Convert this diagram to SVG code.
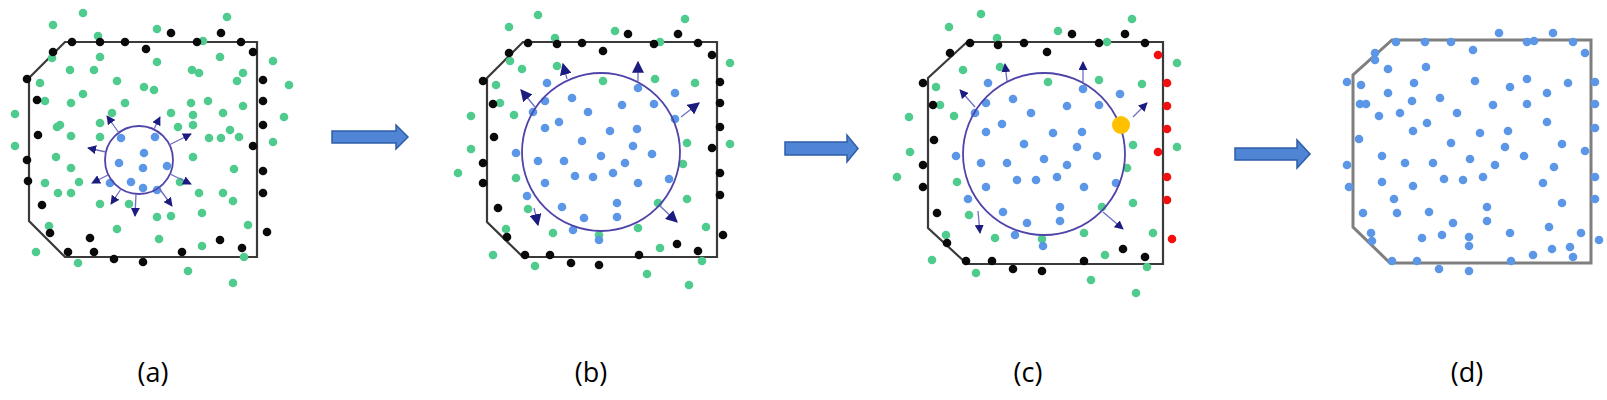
<svg xmlns="http://www.w3.org/2000/svg" width="1607" height="400" viewBox="0 0 1607 400">
<style>
.g{fill:#4fcb8e}
.k{fill:#0a0a0a}
.b{fill:#5b97e6}
.r{fill:#f20f0f}
.o{fill:#ffc000}
.bd{fill:none;stroke:#3a3a3a;stroke-width:2.2}
.bd2{fill:none;stroke:#7f7f7f;stroke-width:3}
.ring{fill:none;stroke:#4f44a8;stroke-width:1.8}
.ar{stroke:#6f6cc4;stroke-width:1.3;fill:none}
.blk{fill:#4f85d4;stroke:#2f5ea8;stroke-width:1.5}
.lbl{font-family:"Open Sans","Liberation Sans",sans-serif;font-size:27px;fill:#000;text-anchor:middle}
</style>
<defs>
<marker id="hs" viewBox="0 0 10 10" refX="9" refY="5" markerUnits="userSpaceOnUse" markerWidth="9" markerHeight="9" orient="auto"><path d="M0,0 L10,5 L0,10 z" fill="#1c1c80"/></marker>
<marker id="hl" viewBox="0 0 10 10" refX="9" refY="5" markerUnits="userSpaceOnUse" markerWidth="12" markerHeight="12" orient="auto"><path d="M0,0 L10,5 L0,10 z" fill="#1c1c80"/></marker>
</defs>
<rect width="1607" height="400" fill="#fff"/>

<g id="panel-a">
<polygon class="bd" points="65,42 257,42 257,257 65,257 29,221 29,78"/>
<g>
<circle class="g" cx="83" cy="13" r="4.3"/><circle class="g" cx="53" cy="25" r="4.3"/><circle class="g" cx="98" cy="36" r="4.3"/><circle class="g" cx="157" cy="29" r="4.3"/><circle class="g" cx="227" cy="17" r="4.3"/><circle class="g" cx="203" cy="41" r="4.3"/><circle class="g" cx="52" cy="58" r="4.3"/><circle class="g" cx="100" cy="57" r="4.3"/><circle class="g" cx="157" cy="62" r="4.3"/><circle class="g" cx="220" cy="57" r="4.3"/><circle class="g" cx="273" cy="61" r="4.3"/><circle class="g" cx="70" cy="70" r="4.3"/><circle class="g" cx="94" cy="70" r="4.3"/><circle class="g" cx="192" cy="70" r="4.3"/><circle class="g" cx="199" cy="73" r="4.3"/><circle class="g" cx="243" cy="73" r="4.3"/><circle class="g" cx="237" cy="81" r="4.3"/><circle class="g" cx="40" cy="83" r="4.3"/><circle class="g" cx="117" cy="81" r="4.3"/><circle class="g" cx="144" cy="87" r="4.3"/><circle class="g" cx="154" cy="90" r="4.3"/><circle class="g" cx="289" cy="85" r="4.3"/><circle class="g" cx="83" cy="94" r="4.3"/><circle class="g" cx="45" cy="101" r="4.3"/><circle class="g" cx="71" cy="103" r="4.3"/><circle class="g" cx="125" cy="103" r="4.3"/><circle class="g" cx="191" cy="103" r="4.3"/><circle class="g" cx="208" cy="101" r="4.3"/><circle class="g" cx="243" cy="106" r="4.3"/><circle class="g" cx="15" cy="114" r="4.3"/><circle class="g" cx="112" cy="113" r="4.3"/><circle class="g" cx="171" cy="113" r="4.3"/><circle class="g" cx="193" cy="115" r="4.3"/><circle class="g" cx="193" cy="125" r="4.3"/><circle class="g" cx="223" cy="113" r="4.3"/><circle class="g" cx="284" cy="117" r="4.3"/><circle class="g" cx="60" cy="125" r="4.3"/><circle class="g" cx="57" cy="127" r="4.3"/><circle class="g" cx="100" cy="123" r="4.3"/><circle class="g" cx="178" cy="127" r="4.3"/><circle class="g" cx="230" cy="130" r="4.3"/><circle class="g" cx="15" cy="146" r="4.3"/><circle class="g" cx="71" cy="136" r="4.3"/><circle class="g" cx="100" cy="137" r="4.3"/><circle class="g" cx="209" cy="138" r="4.3"/><circle class="g" cx="221" cy="138" r="4.3"/><circle class="g" cx="239" cy="137" r="4.3"/><circle class="g" cx="273" cy="142" r="4.3"/><circle class="g" cx="56" cy="157" r="4.3"/><circle class="g" cx="193" cy="157" r="4.3"/><circle class="g" cx="71" cy="168" r="4.3"/><circle class="g" cx="234" cy="169" r="4.3"/><circle class="g" cx="79" cy="182" r="4.3"/><circle class="g" cx="45" cy="183" r="4.3"/><circle class="g" cx="180" cy="182" r="4.3"/><circle class="g" cx="58" cy="193" r="4.3"/><circle class="g" cx="71" cy="193" r="4.3"/><circle class="g" cx="199" cy="193" r="4.3"/><circle class="g" cx="223" cy="193" r="4.3"/><circle class="g" cx="233" cy="201" r="4.3"/><circle class="g" cx="100" cy="204" r="4.3"/><circle class="g" cx="129" cy="204" r="4.3"/><circle class="g" cx="157" cy="217" r="4.3"/><circle class="g" cx="171" cy="216" r="4.3"/><circle class="g" cx="202" cy="213" r="4.3"/><circle class="g" cx="49" cy="226" r="4.3"/><circle class="g" cx="117" cy="229" r="4.3"/><circle class="g" cx="248" cy="225" r="4.3"/><circle class="g" cx="159" cy="239" r="4.3"/><circle class="g" cx="202" cy="246" r="4.3"/><circle class="g" cx="36" cy="252" r="4.3"/><circle class="g" cx="78" cy="263" r="4.3"/><circle class="g" cx="244" cy="257" r="4.3"/><circle class="g" cx="188" cy="271" r="4.3"/><circle class="g" cx="233" cy="283" r="4.3"/>
</g>
<g>
<circle class="k" cx="72" cy="42" r="4.3"/><circle class="k" cx="100" cy="42" r="4.3"/><circle class="k" cx="125" cy="42" r="4.3"/><circle class="k" cx="146" cy="49" r="4.3"/><circle class="k" cx="171" cy="33" r="4.3"/><circle class="k" cx="197" cy="42" r="4.3"/><circle class="k" cx="221" cy="33" r="4.3"/><circle class="k" cx="241" cy="42" r="4.3"/><circle class="k" cx="253" cy="52" r="4.3"/><circle class="k" cx="53" cy="52" r="4.3"/><circle class="k" cx="27" cy="79" r="4.3"/><circle class="k" cx="37" cy="100" r="4.3"/><circle class="k" cx="38" cy="135" r="4.3"/><circle class="k" cx="27" cy="160" r="4.3"/><circle class="k" cx="28" cy="181" r="4.3"/><circle class="k" cx="42" cy="205" r="4.3"/><circle class="k" cx="50" cy="233" r="4.3"/><circle class="k" cx="90" cy="238" r="4.3"/><circle class="k" cx="68" cy="252" r="4.3"/><circle class="k" cx="94" cy="252" r="4.3"/><circle class="k" cx="114" cy="259" r="4.3"/><circle class="k" cx="143" cy="262" r="4.3"/><circle class="k" cx="182" cy="252" r="4.3"/><circle class="k" cx="220" cy="240" r="4.3"/><circle class="k" cx="242" cy="248" r="4.3"/><circle class="k" cx="267" cy="232" r="4.3"/><circle class="k" cx="263" cy="80" r="4.3"/><circle class="k" cx="263" cy="101" r="4.3"/><circle class="k" cx="263" cy="125" r="4.3"/><circle class="k" cx="253" cy="146" r="4.3"/><circle class="k" cx="263" cy="171" r="4.3"/><circle class="k" cx="263" cy="193" r="4.3"/>
</g>
<g>
<circle class="b" cx="121" cy="138" r="4.3"/><circle class="b" cx="155" cy="137" r="4.3"/><circle class="b" cx="144" cy="153" r="4.3"/><circle class="b" cx="119" cy="163" r="4.3"/><circle class="b" cx="143" cy="168" r="4.3"/><circle class="b" cx="167" cy="166" r="4.3"/><circle class="b" cx="131" cy="182" r="4.3"/><circle class="b" cx="110" cy="183" r="4.3"/><circle class="b" cx="143" cy="188" r="4.3"/><circle class="b" cx="157" cy="190" r="4.3"/>
</g>
<circle class="ring" cx="139" cy="160" r="34"/>
<g marker-end="url(#hs)">
<line class="ar" x1="119" y1="133" x2="107" y2="116"/>
<line class="ar" x1="154" y1="129" x2="160" y2="117"/>
<line class="ar" x1="169" y1="145" x2="191" y2="134"/>
<line class="ar" x1="106" y1="152" x2="88" y2="148"/>
<line class="ar" x1="108" y1="175" x2="92" y2="183"/>
<line class="ar" x1="170" y1="174" x2="191" y2="184"/>
<line class="ar" x1="121" y1="189" x2="111" y2="204"/>
<line class="ar" x1="159" y1="188" x2="172" y2="206"/>
<line class="ar" x1="136" y1="194" x2="135" y2="216"/>
</g>
</g>

<g id="panel-b">
<polygon class="bd" points="523,42 717,42 717,257 523,257 487,222 487,78"/>
<g>
<circle class="g" cx="538" cy="15" r="4.3"/><circle class="g" cx="509" cy="27" r="4.3"/><circle class="g" cx="555" cy="38" r="4.3"/><circle class="g" cx="615" cy="31" r="4.3"/><circle class="g" cx="685" cy="19" r="4.3"/><circle class="g" cx="660" cy="42" r="4.3"/><circle class="g" cx="510" cy="61" r="4.3"/><circle class="g" cx="522" cy="69" r="4.3"/><circle class="g" cx="557" cy="66" r="4.3"/><circle class="g" cx="730" cy="63" r="4.3"/><circle class="g" cx="496" cy="85" r="4.3"/><circle class="g" cx="603" cy="81" r="4.3"/><circle class="g" cx="655" cy="79" r="4.3"/><circle class="g" cx="695" cy="83" r="4.3"/><circle class="g" cx="500" cy="103" r="4.3"/><circle class="g" cx="514" cy="115" r="4.3"/><circle class="g" cx="471" cy="116" r="4.3"/><circle class="g" cx="471" cy="149" r="4.3"/><circle class="g" cx="687" cy="143" r="4.3"/><circle class="g" cx="730" cy="144" r="4.3"/><circle class="g" cx="458" cy="173" r="4.3"/><circle class="g" cx="683" cy="164" r="4.3"/><circle class="g" cx="516" cy="178" r="4.3"/><circle class="g" cx="528" cy="209" r="4.3"/><circle class="g" cx="687" cy="199" r="4.3"/><circle class="g" cx="658" cy="203" r="4.3"/><circle class="g" cx="506" cy="229" r="4.3"/><circle class="g" cx="553" cy="233" r="4.3"/><circle class="g" cx="599" cy="235" r="4.3"/><circle class="g" cx="638" cy="228" r="4.3"/><circle class="g" cx="706" cy="227" r="4.3"/><circle class="g" cx="493" cy="255" r="4.3"/><circle class="g" cx="535" cy="266" r="4.3"/><circle class="g" cx="660" cy="248" r="4.3"/><circle class="g" cx="702" cy="261" r="4.3"/><circle class="g" cx="647" cy="274" r="4.3"/><circle class="g" cx="689" cy="285" r="4.3"/>
</g>
<g>
<circle class="k" cx="528" cy="43" r="4.3"/><circle class="k" cx="557" cy="44" r="4.3"/><circle class="k" cx="582" cy="43" r="4.3"/><circle class="k" cx="603" cy="51" r="4.3"/><circle class="k" cx="628" cy="34" r="4.3"/><circle class="k" cx="654" cy="44" r="4.3"/><circle class="k" cx="678" cy="34" r="4.3"/><circle class="k" cx="698" cy="43" r="4.3"/><circle class="k" cx="712" cy="55" r="4.3"/><circle class="k" cx="509" cy="53" r="4.3"/><circle class="k" cx="483" cy="81" r="4.3"/><circle class="k" cx="493" cy="104" r="4.3"/><circle class="k" cx="494" cy="137" r="4.3"/><circle class="k" cx="483" cy="163" r="4.3"/><circle class="k" cx="483" cy="183" r="4.3"/><circle class="k" cx="498" cy="208" r="4.3"/><circle class="k" cx="507" cy="237" r="4.3"/><circle class="k" cx="525" cy="255" r="4.3"/><circle class="k" cx="550" cy="255" r="4.3"/><circle class="k" cx="571" cy="263" r="4.3"/><circle class="k" cx="599" cy="265" r="4.3"/><circle class="k" cx="639" cy="255" r="4.3"/><circle class="k" cx="677" cy="244" r="4.3"/><circle class="k" cx="698" cy="251" r="4.3"/><circle class="k" cx="723" cy="235" r="4.3"/><circle class="k" cx="720" cy="82" r="4.3"/><circle class="k" cx="720" cy="103" r="4.3"/><circle class="k" cx="720" cy="127" r="4.3"/><circle class="k" cx="712" cy="148" r="4.3"/><circle class="k" cx="720" cy="173" r="4.3"/><circle class="k" cx="720" cy="195" r="4.3"/>
</g>
<g>
<circle class="b" cx="547" cy="83" r="4.3"/><circle class="b" cx="533" cy="112" r="4.3"/><circle class="b" cx="572" cy="98" r="4.3"/><circle class="b" cx="545" cy="101" r="4.3"/><circle class="b" cx="588" cy="112" r="4.3"/><circle class="b" cx="622" cy="105" r="4.3"/><circle class="b" cx="638" cy="88" r="4.3"/><circle class="b" cx="654" cy="104" r="4.3"/><circle class="b" cx="675" cy="93" r="4.3"/><circle class="b" cx="559" cy="122" r="4.3"/><circle class="b" cx="545" cy="128" r="4.3"/><circle class="b" cx="582" cy="141" r="4.3"/><circle class="b" cx="610" cy="131" r="4.3"/><circle class="b" cx="637" cy="129" r="4.3"/><circle class="b" cx="675" cy="119" r="4.3"/><circle class="b" cx="633" cy="146" r="4.3"/><circle class="b" cx="516" cy="153" r="4.3"/><circle class="b" cx="538" cy="161" r="4.3"/><circle class="b" cx="564" cy="161" r="4.3"/><circle class="b" cx="601" cy="156" r="4.3"/><circle class="b" cx="625" cy="163" r="4.3"/><circle class="b" cx="652" cy="154" r="4.3"/><circle class="b" cx="575" cy="176" r="4.3"/><circle class="b" cx="593" cy="177" r="4.3"/><circle class="b" cx="613" cy="173" r="4.3"/><circle class="b" cx="545" cy="183" r="4.3"/><circle class="b" cx="638" cy="183" r="4.3"/><circle class="b" cx="669" cy="179" r="4.3"/><circle class="b" cx="527" cy="196" r="4.3"/><circle class="b" cx="562" cy="207" r="4.3"/><circle class="b" cx="617" cy="203" r="4.3"/><circle class="b" cx="617" cy="217" r="4.3"/><circle class="b" cx="584" cy="218" r="4.3"/><circle class="b" cx="573" cy="230" r="4.3"/><circle class="b" cx="599" cy="240" r="4.3"/>
</g>
<circle class="ring" cx="601" cy="152" r="79"/>
<g marker-end="url(#hl)">
<line class="ar" x1="567" y1="79" x2="563" y2="64"/>
<line class="ar" x1="638" y1="81" x2="638" y2="62"/>
<line class="ar" x1="535" y1="107" x2="521" y2="90"/>
<line class="ar" x1="681" y1="117" x2="699" y2="103"/>
<line class="ar" x1="534" y1="208" x2="538" y2="225"/>
<line class="ar" x1="660" y1="206" x2="677" y2="222"/>
</g>
</g>

<g id="panel-c">
<polygon class="bd" points="967,42 1163,42 1163,264 967,264 928,228 928,78"/>
<g>
<circle class="g" cx="981" cy="14" r="4.3"/><circle class="g" cx="949" cy="27" r="4.3"/><circle class="g" cx="1058" cy="31" r="4.3"/><circle class="g" cx="1132" cy="19" r="4.3"/><circle class="g" cx="997" cy="38" r="4.3"/><circle class="g" cx="1107" cy="42" r="4.3"/><circle class="g" cx="963" cy="70" r="4.3"/><circle class="g" cx="1000" cy="67" r="4.3"/><circle class="g" cx="1048" cy="82" r="4.3"/><circle class="g" cx="1099" cy="80" r="4.3"/><circle class="g" cx="1142" cy="84" r="4.3"/><circle class="g" cx="936" cy="87" r="4.3"/><circle class="g" cx="940" cy="105" r="4.3"/><circle class="g" cx="954" cy="116" r="4.3"/><circle class="g" cx="909" cy="117" r="4.3"/><circle class="g" cx="910" cy="152" r="4.3"/><circle class="g" cx="1133" cy="145" r="4.3"/><circle class="g" cx="897" cy="177" r="4.3"/><circle class="g" cx="957" cy="182" r="4.3"/><circle class="g" cx="1127" cy="168" r="4.3"/><circle class="g" cx="1133" cy="203" r="4.3"/><circle class="g" cx="969" cy="215" r="4.3"/><circle class="g" cx="1102" cy="207" r="4.3"/><circle class="g" cx="946" cy="235" r="4.3"/><circle class="g" cx="995" cy="238" r="4.3"/><circle class="g" cx="1042" cy="239" r="4.3"/><circle class="g" cx="1084" cy="233" r="4.3"/><circle class="g" cx="1153" cy="233" r="4.3"/><circle class="g" cx="1105" cy="255" r="4.3"/><circle class="g" cx="932" cy="260" r="4.3"/><circle class="g" cx="976" cy="273" r="4.3"/><circle class="g" cx="1091" cy="280" r="4.3"/><circle class="g" cx="1147" cy="267" r="4.3"/><circle class="g" cx="1136" cy="293" r="4.3"/><circle class="g" cx="1177" cy="63" r="4.3"/><circle class="g" cx="1177" cy="147" r="4.3"/>
</g>
<g>
<circle class="k" cx="970" cy="43" r="4.3"/><circle class="k" cx="998" cy="45" r="4.3"/><circle class="k" cx="1024" cy="43" r="4.3"/><circle class="k" cx="1047" cy="52" r="4.3"/><circle class="k" cx="1072" cy="34" r="4.3"/><circle class="k" cx="1099" cy="43" r="4.3"/><circle class="k" cx="1125" cy="34" r="4.3"/><circle class="k" cx="1145" cy="43" r="4.3"/><circle class="k" cx="950" cy="53" r="4.3"/><circle class="k" cx="923" cy="83" r="4.3"/><circle class="k" cx="933" cy="105" r="4.3"/><circle class="k" cx="934" cy="140" r="4.3"/><circle class="k" cx="923" cy="165" r="4.3"/><circle class="k" cx="923" cy="187" r="4.3"/><circle class="k" cx="937" cy="213" r="4.3"/><circle class="k" cx="947" cy="243" r="4.3"/><circle class="k" cx="966" cy="261" r="4.3"/><circle class="k" cx="992" cy="261" r="4.3"/><circle class="k" cx="1013" cy="269" r="4.3"/><circle class="k" cx="1042" cy="271" r="4.3"/><circle class="k" cx="1084" cy="261" r="4.3"/><circle class="k" cx="1123" cy="249" r="4.3"/><circle class="k" cx="1145" cy="257" r="4.3"/>
</g>
<g>
<circle class="r" cx="1158" cy="55" r="4.3"/><circle class="r" cx="1167" cy="83" r="4.3"/><circle class="r" cx="1167" cy="106" r="4.3"/><circle class="r" cx="1167" cy="129" r="4.3"/><circle class="r" cx="1158" cy="152" r="4.3"/><circle class="r" cx="1167" cy="177" r="4.3"/><circle class="r" cx="1167" cy="200" r="4.3"/><circle class="r" cx="1172" cy="239" r="4.3"/>
</g>
<g>
<circle class="b" cx="988" cy="83" r="4.3"/><circle class="b" cx="1013" cy="99" r="4.3"/><circle class="b" cx="986" cy="103" r="4.3"/><circle class="b" cx="1031" cy="113" r="4.3"/><circle class="b" cx="1067" cy="106" r="4.3"/><circle class="b" cx="1083" cy="89" r="4.3"/><circle class="b" cx="1099" cy="105" r="4.3"/><circle class="b" cx="1120" cy="94" r="4.3"/><circle class="b" cx="1002" cy="124" r="4.3"/><circle class="b" cx="986" cy="132" r="4.3"/><circle class="b" cx="1053" cy="133" r="4.3"/><circle class="b" cx="1082" cy="132" r="4.3"/><circle class="b" cx="1024" cy="144" r="4.3"/><circle class="b" cx="1077" cy="147" r="4.3"/><circle class="b" cx="956" cy="156" r="4.3"/><circle class="b" cx="981" cy="163" r="4.3"/><circle class="b" cx="1007" cy="163" r="4.3"/><circle class="b" cx="1044" cy="159" r="4.3"/><circle class="b" cx="1067" cy="165" r="4.3"/><circle class="b" cx="1097" cy="156" r="4.3"/><circle class="b" cx="1017" cy="180" r="4.3"/><circle class="b" cx="1036" cy="180" r="4.3"/><circle class="b" cx="1057" cy="177" r="4.3"/><circle class="b" cx="986" cy="187" r="4.3"/><circle class="b" cx="1084" cy="187" r="4.3"/><circle class="b" cx="1116" cy="183" r="4.3"/><circle class="b" cx="968" cy="199" r="4.3"/><circle class="b" cx="1060" cy="207" r="4.3"/><circle class="b" cx="1003" cy="212" r="4.3"/><circle class="b" cx="1027" cy="223" r="4.3"/><circle class="b" cx="1060" cy="221" r="4.3"/><circle class="b" cx="1015" cy="235" r="4.3"/><circle class="b" cx="1043" cy="246" r="4.3"/><circle class="b" cx="975" cy="113" r="4.3"/>
</g>
<circle class="ring" cx="1044" cy="154" r="81"/>
<circle class="o" cx="1121" cy="125" r="9"/>
<g marker-end="url(#hs)">
<line class="ar" x1="1007" y1="81" x2="1005" y2="64"/>
<line class="ar" x1="1083" y1="82" x2="1083" y2="62"/>
<line class="ar" x1="975" y1="107" x2="960" y2="90"/>
<line class="ar" x1="1133" y1="117" x2="1147" y2="103"/>
<line class="ar" x1="978" y1="211" x2="980" y2="233"/>
<line class="ar" x1="1103" y1="212" x2="1123" y2="229"/>
</g>
</g>

<g id="panel-d">
<polygon class="bd2" points="1392,40 1591,40 1591,263 1390,263 1353,227 1353,75"/>
<g>
<circle class="b" cx="1396" cy="42" r="4.3"/><circle class="b" cx="1425" cy="42" r="4.3"/><circle class="b" cx="1451" cy="42" r="4.3"/><circle class="b" cx="1473" cy="50" r="4.3"/><circle class="b" cx="1499" cy="33" r="4.3"/><circle class="b" cx="1527" cy="42" r="4.3"/><circle class="b" cx="1534" cy="41" r="4.3"/><circle class="b" cx="1553" cy="33" r="4.3"/><circle class="b" cx="1573" cy="42" r="4.3"/><circle class="b" cx="1585" cy="53" r="4.3"/><circle class="b" cx="1375" cy="53" r="4.3"/><circle class="b" cx="1375" cy="60" r="4.3"/><circle class="b" cx="1388" cy="69" r="4.3"/><circle class="b" cx="1426" cy="67" r="4.3"/><circle class="b" cx="1347" cy="82" r="4.3"/><circle class="b" cx="1361" cy="85" r="4.3"/><circle class="b" cx="1414" cy="83" r="4.3"/><circle class="b" cx="1475" cy="81" r="4.3"/><circle class="b" cx="1510" cy="87" r="4.3"/><circle class="b" cx="1527" cy="79" r="4.3"/><circle class="b" cx="1547" cy="93" r="4.3"/><circle class="b" cx="1568" cy="83" r="4.3"/><circle class="b" cx="1388" cy="93" r="4.3"/><circle class="b" cx="1412" cy="101" r="4.3"/><circle class="b" cx="1440" cy="98" r="4.3"/><circle class="b" cx="1360" cy="104" r="4.3"/><circle class="b" cx="1366" cy="104" r="4.3"/><circle class="b" cx="1493" cy="105" r="4.3"/><circle class="b" cx="1527" cy="104" r="4.3"/><circle class="b" cx="1379" cy="116" r="4.3"/><circle class="b" cx="1400" cy="113" r="4.3"/><circle class="b" cx="1457" cy="113" r="4.3"/><circle class="b" cx="1427" cy="123" r="4.3"/><circle class="b" cx="1547" cy="122" r="4.3"/><circle class="b" cx="1413" cy="131" r="4.3"/><circle class="b" cx="1480" cy="133" r="4.3"/><circle class="b" cx="1508" cy="131" r="4.3"/><circle class="b" cx="1359" cy="139" r="4.3"/><circle class="b" cx="1451" cy="143" r="4.3"/><circle class="b" cx="1505" cy="147" r="4.3"/><circle class="b" cx="1562" cy="144" r="4.3"/><circle class="b" cx="1585" cy="151" r="4.3"/><circle class="b" cx="1382" cy="156" r="4.3"/><circle class="b" cx="1405" cy="163" r="4.3"/><circle class="b" cx="1433" cy="163" r="4.3"/><circle class="b" cx="1470" cy="159" r="4.3"/><circle class="b" cx="1495" cy="165" r="4.3"/><circle class="b" cx="1524" cy="156" r="4.3"/><circle class="b" cx="1554" cy="167" r="4.3"/><circle class="b" cx="1347" cy="165" r="4.3"/><circle class="b" cx="1444" cy="179" r="4.3"/><circle class="b" cx="1463" cy="180" r="4.3"/><circle class="b" cx="1483" cy="177" r="4.3"/><circle class="b" cx="1382" cy="182" r="4.3"/><circle class="b" cx="1413" cy="186" r="4.3"/><circle class="b" cx="1543" cy="183" r="4.3"/><circle class="b" cx="1349" cy="187" r="4.3"/><circle class="b" cx="1394" cy="199" r="4.3"/><circle class="b" cx="1487" cy="207" r="4.3"/><circle class="b" cx="1562" cy="203" r="4.3"/><circle class="b" cx="1363" cy="213" r="4.3"/><circle class="b" cx="1397" cy="213" r="4.3"/><circle class="b" cx="1429" cy="212" r="4.3"/><circle class="b" cx="1453" cy="223" r="4.3"/><circle class="b" cx="1487" cy="221" r="4.3"/><circle class="b" cx="1549" cy="227" r="4.3"/><circle class="b" cx="1581" cy="233" r="4.3"/><circle class="b" cx="1371" cy="233" r="4.3"/><circle class="b" cx="1372" cy="241" r="4.3"/><circle class="b" cx="1422" cy="238" r="4.3"/><circle class="b" cx="1442" cy="235" r="4.3"/><circle class="b" cx="1469" cy="237" r="4.3"/><circle class="b" cx="1469" cy="246" r="4.3"/><circle class="b" cx="1510" cy="233" r="4.3"/><circle class="b" cx="1533" cy="255" r="4.3"/><circle class="b" cx="1552" cy="249" r="4.3"/><circle class="b" cx="1570" cy="247" r="4.3"/><circle class="b" cx="1573" cy="257" r="4.3"/><circle class="b" cx="1392" cy="261" r="4.3"/><circle class="b" cx="1417" cy="261" r="4.3"/><circle class="b" cx="1439" cy="269" r="4.3"/><circle class="b" cx="1469" cy="271" r="4.3"/><circle class="b" cx="1511" cy="261" r="4.3"/><circle class="b" cx="1595" cy="82" r="4.3"/><circle class="b" cx="1595" cy="104" r="4.3"/><circle class="b" cx="1595" cy="128" r="4.3"/><circle class="b" cx="1595" cy="177" r="4.3"/><circle class="b" cx="1595" cy="199" r="4.3"/><circle class="b" cx="1599" cy="240" r="4.3"/>
</g>
</g>

<g id="connectors">
<path class="blk" d="M332,131 H396 V125 L408,137 L396,149 V143 H332 Z"/>
<path class="blk" d="M785,142 H847 V135 L858,148.5 L847,162 V155 H785 Z"/>
<path class="blk" d="M1235,148 H1297 V140 L1310,154 L1297,168 V160 H1235 Z"/>
</g>

<g id="labels">
<text class="lbl" x="153" y="382">(a)</text>
<text class="lbl" x="591" y="382">(b)</text>
<text class="lbl" x="1028" y="382">(c)</text>
<text class="lbl" x="1467" y="382">(d)</text>
</g>
</svg>
